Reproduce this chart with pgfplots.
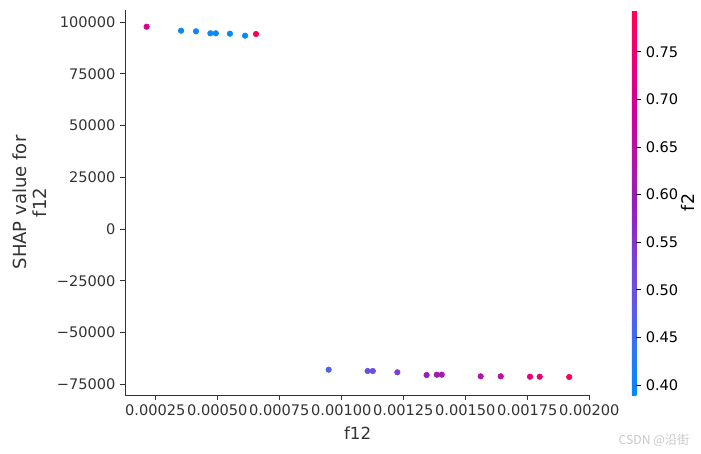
\documentclass[border=0pt]{standalone}
\usepackage{fontspec}
\setmainfont{DejaVu Sans}
\newfontfamily\cjk{Noto Sans CJK SC}
\usepackage{pgfplots}
\pgfplotsset{compat=1.18}
\definecolor{txt}{HTML}{333333}
\pgfplotsset{colormap={shap}{rgb255=(0,139,251) rgb255=(50,115,245) rgb255=(100,85,228) rgb255=(125,60,210) rgb255=(150,30,185) rgb255=(180,20,165) rgb255=(210,0,150) rgb255=(235,0,120) rgb255=(255,0,81)}}
\begin{document}
\begin{tikzpicture}
\path[use as bounding box] (0,0) rectangle (504.72pt,326.16pt);
\begin{axis}[
  at={(90pt,41.76pt)}, anchor=south west,
  scale only axis, width=335pt, height=277.2pt,
  xmin=0.0001278, xmax=0.002004, ymin=-80270, ymax=105900,
  axis x line*=bottom, axis y line*=left,
  axis line style={-, draw=txt, line width=0.7pt},
  tick align=outside, major tick length=3.3pt,
  tick style={draw=txt, line width=0.7pt},
  xtick={0.00025,0.0005,0.00075,0.001,0.00125,0.0015,0.00175,0.002},
  xticklabels={0.00025,0.00050,0.00075,0.00100,0.00125,0.00150,0.00175,0.00200},
  ytick={-75000,-50000,-25000,0,25000,50000,75000,100000},
  yticklabels={−75000,−50000,−25000,0,25000,50000,75000,100000},
  scaled x ticks=false, scaled y ticks=false,
  ticklabel style={font=\fontsize{10.5}{12}\selectfont, text=txt},
  xlabel={f12}, ylabel={SHAP value for\\f12},
  xlabel style={font=\fontsize{12}{14}\selectfont, text=txt, at={(axis description cs:0.5,-0.0987)}, anchor=center},
  ylabel style={font=\fontsize{13}{15}\selectfont, text=txt, align=center, at={(axis description cs:-0.205,0.5)}, anchor=center},
  colormap name=shap, colorbar, point meta min=0.3895, point meta max=0.794,
  colorbar style={
    at={(parent axis.south east)}, anchor=south west, xshift=21.4pt,
    width=3.2pt,
    axis line style={draw=none},
    ytick={0.40,0.45,0.50,0.55,0.60,0.65,0.70,0.75},
    yticklabels={0.40,0.45,0.50,0.55,0.60,0.65,0.70,0.75},
    ytick pos=right, tick align=outside, major tick length=3.3pt,
    tick style={draw=black, line width=0.7pt},
    yticklabel style={font=\fontsize{10.5}{12}\selectfont, text=black},
    ylabel={f2}, ylabel shift=-4.5pt,
    ylabel style={font=\fontsize{12.5}{14}\selectfont, text=black},
  },
]
\addplot[scatter, only marks, mark=*, mark size=2pt,
  scatter/use mapped color={draw=mapped color, fill=mapped color},
  point meta=explicit] table[meta=c] {
x y c
0.000215 97824 0.70
0.000354 95890 0.40
0.000414 95600 0.41
0.000472 94632 0.395
0.000494 94632 0.40
0.000551 94439 0.39
0.000612 93472 0.3895
0.000656 94294 0.794
0.000949 -68037 0.47
0.001106 -68665 0.50
0.001127 -68665 0.505
0.001226 -69294 0.535
0.001344 -70600 0.59
0.001385 -70455 0.61
0.001405 -70455 0.615
0.001562 -71228 0.63
0.001643 -71228 0.65
0.001761 -71421 0.74
0.001800 -71421 0.75
0.001919 -71567 0.79
};
\end{axis}
\node[text=black!22, font=\cjk\fontsize{8.8}{10}\selectfont] at (470.9pt,9.36pt) {CSDN @沿街};
\end{tikzpicture}
\end{document}
